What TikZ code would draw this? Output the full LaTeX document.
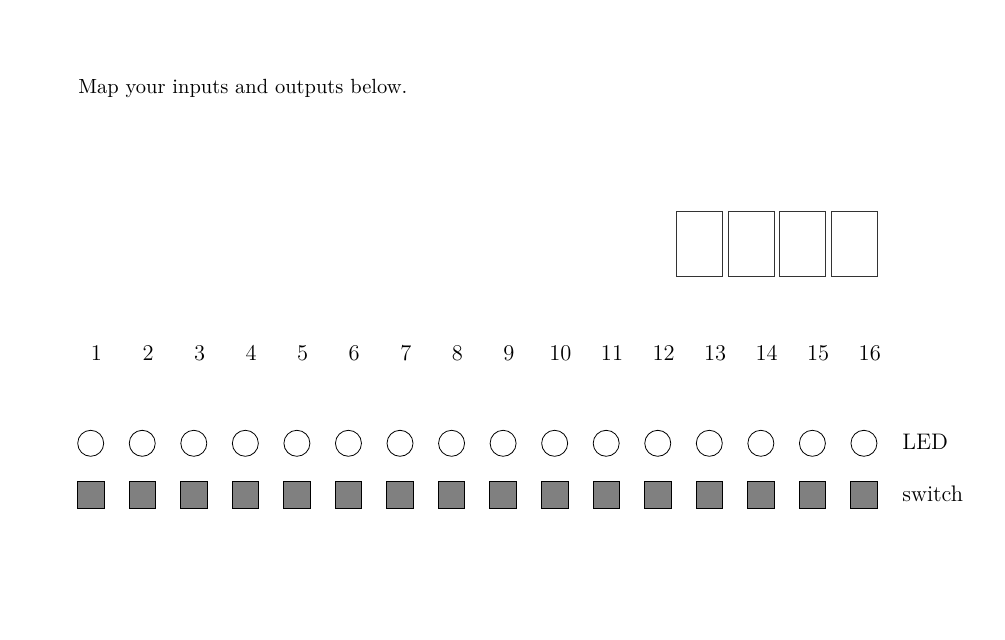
\documentclass[tikz,border=0pt]{standalone}
\usepackage{amssymb}
\usepackage{amsmath}
\usepackage{tikz}

\begin{document}
\begin{tikzpicture}[x=0.5pt, y=-0.5pt,
			led/.style={
				circle,
				draw,
				inner sep = 0mm,
				minimum size = 13pt},
			switch/.style={
				rectangle,
				draw,
				fill=gray,
				inner sep = 0mm,
				minimum size = 13.3pt},
			digit/.style={
				rectangle,
				draw=black!80,
				inner sep = 0mm,
				minimum width = 23pt,
				minimum height = 32.5pt},
			pin/.style={
				anchor = base,
				inner sep = 0mm,
				font = \fontsize{11.25}{13}\selectfont},
			label/.style={
				anchor = base west,
				inner sep = 0mm,
				font = \fontsize{11.25}{13}\selectfont}]
			\useasboundingbox (0, 0) rectangle (1005, 640);
			\node (title) at (78, 94) [anchor = base west, inner sep = 0mm,
				font = \fontsize{10.25}{12}\selectfont] {Map your inputs and outputs below.};
			% seven segment displays
			\foreach \k in {1,...,4}
				\node (seg\k) at (648.2 + \k*51.5, 243.5) [digit] {};
			% pins, leds and switches
			\foreach \i in {1,...,16} {
				\node (num\i) at (44.95 + \i*51.55, 361) [pin] {\i};
				\node (led\i) at (39.15 + \i*51.55, 443.3) [led] {};
				\node (sw\i) at (39.15 + \i*51.55, 495) [switch] {};
			}
			\node (ledlabel) at (902, 450) [label] {LED};
			\node (swlabel) at (902, 501) [label] {switch};
\end{tikzpicture}
\end{document}
